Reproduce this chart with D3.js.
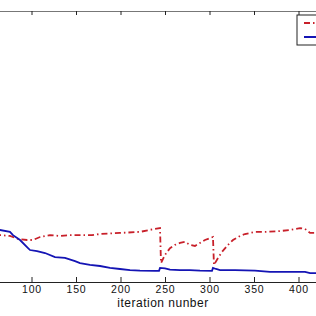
<!DOCTYPE html>
<html>
<head>
<meta charset="utf-8">
<script src="https://cdn.jsdelivr.net/npm/d3@7"></script>
<style>
  body { margin: 0; background: #fff; }
  svg { display: block; font-family: "Liberation Sans", Arial, sans-serif; }
</style>
</head>
<body>
<svg width="316" height="316"></svg>
<script>
// values (y in arbitrary units, 0 = bottom axis)
var blueIter = [59, 64.6, 75.8, 79.2, 87.1, 95, 98.3, 106.2, 115.2, 126.4, 137.6, 148.9, 154.5,
  165.7, 177, 188.2, 199.4, 210.7, 221.9, 238.8, 243.3, 244.4, 250, 255.6, 266.9, 278, 289.3,
  302.8, 303.9, 307.3, 311.8, 328.7, 351.1, 354.5, 368, 407.3, 413, 424];
var blueVal = [19.2, 19.2, 18.5, 17.3, 15.5, 12.9, 11.8, 11.4, 10.7, 9.2, 8.9, 7.7, 7.0,
  6.3, 5.9, 5.2, 4.8, 4.4, 4.2, 4.1, 4.1, 5.2, 5.0, 4.6, 4.4, 4.4, 4.2,
  4.1, 5.2, 4.8, 4.4, 4.4, 4.2, 4.1, 3.7, 3.7, 3.3, 3.3];

var redIter = [59, 64.6, 75.8, 84.8, 95, 101.7, 109.6, 120.8, 132, 143.3, 154.5, 168, 177, 199.4,
  221.9, 238.8, 244.4, 245.5, 250, 255.6, 261.2, 266.9, 272.5, 278, 283.7, 289.3, 294.9, 300.6,
  303.9, 305, 309.6, 314, 320.8, 326.4, 334.3, 339.9, 351.1, 362.4, 379.2, 390.4, 401.7, 407.3,
  413, 424];
var redVal = [17.3, 17.3, 17.0, 15.9, 15.5, 15.5, 16.6, 17.3, 17.0, 17.3, 17.3, 17.3, 17.7, 18.1,
  18.5, 19.6, 19.9, 7.0, 10.0, 12.5, 13.7, 14.4, 14.8, 13.7, 13.3, 14.4, 15.5, 16.2,
  16.6, 6.3, 8.9, 11.1, 13.7, 15.5, 17.0, 17.7, 18.5, 18.5, 18.8, 19.2, 19.9, 19.6,
  18.1, 18.1];

var xTicks = [0, 50, 100, 150, 200, 250, 300, 350, 400, 450];
var xLabelled = [100, 150, 200, 250, 300, 350, 400];

var svg = d3.select("svg");
var axTop = 11, axBottom = 282;

// axes run past both edges of the picture
var x = d3.scaleLinear().domain([0, 450]).range([-57.5, 343]);
var y = d3.scaleLinear().domain([0, 100]).range([axBottom, axTop]);

// top axis (ticks only)
svg.append("g")
  .attr("transform", "translate(0," + axTop + ")")
  .call(d3.axisTop(x).tickValues(xTicks).tickSizeInner(-4).tickSizeOuter(0).tickFormat(""))
  .call(function(g) {
    g.select(".domain").attr("stroke", "#777");
    g.selectAll(".tick line").attr("stroke", "#222");
  });

// bottom axis
svg.append("g")
  .attr("transform", "translate(0," + axBottom + ")")
  .call(d3.axisBottom(x).tickValues(xTicks).tickSizeInner(-5).tickSizeOuter(0).tickPadding(4)
    .tickFormat(function(d) { return xLabelled.indexOf(d) != -1 ? d : ""; }))
  .call(function(g) {
    g.select(".domain").attr("stroke", "#222");
    g.selectAll(".tick line").attr("stroke", "#222");
    g.selectAll("text").attr("font-size", 10.5).attr("fill", "#111")
      .attr("letter-spacing", 0.8)
      .attr("font-family", "'Liberation Sans', Arial, sans-serif");
  });

svg.append("text")
  .attr("x", 163)
  .attr("y", 307)
  .attr("text-anchor", "middle")
  .attr("font-size", 12)
  .attr("letter-spacing", 0.5)
  .attr("fill", "#111")
  .text("iteration nunber");

var line = d3.line()
  .x(function(d) { return x(d[0]); })
  .y(function(d) { return y(d[1]); });

svg.append("path")
  .datum(d3.zip(redIter, redVal))
  .attr("fill", "none")
  .attr("stroke", "#c8202a")
  .attr("stroke-width", 1.8)
  .attr("stroke-dasharray", "6,3,1.5,3")
  .attr("d", line);

svg.append("path")
  .datum(d3.zip(blueIter, blueVal))
  .attr("fill", "none")
  .attr("stroke", "#1414b4")
  .attr("stroke-width", 1.8)
  .attr("d", line);

// legend (cut off at right edge)
var leg = svg.append("g").attr("transform", "translate(297,15)");
leg.append("rect")
  .attr("width", 60).attr("height", 30)
  .attr("fill", "#fff").attr("stroke", "#222");
leg.append("line")
  .attr("x1", 7).attr("x2", 40).attr("y1", 8).attr("y2", 8)
  .attr("stroke", "#c8202a").attr("stroke-width", 1.8)
  .attr("stroke-dasharray", "6,3,1.5,3");
leg.append("line")
  .attr("x1", 7).attr("x2", 40).attr("y1", 22).attr("y2", 22)
  .attr("stroke", "#1414b4").attr("stroke-width", 1.8);
</script>
</body>
</html>
